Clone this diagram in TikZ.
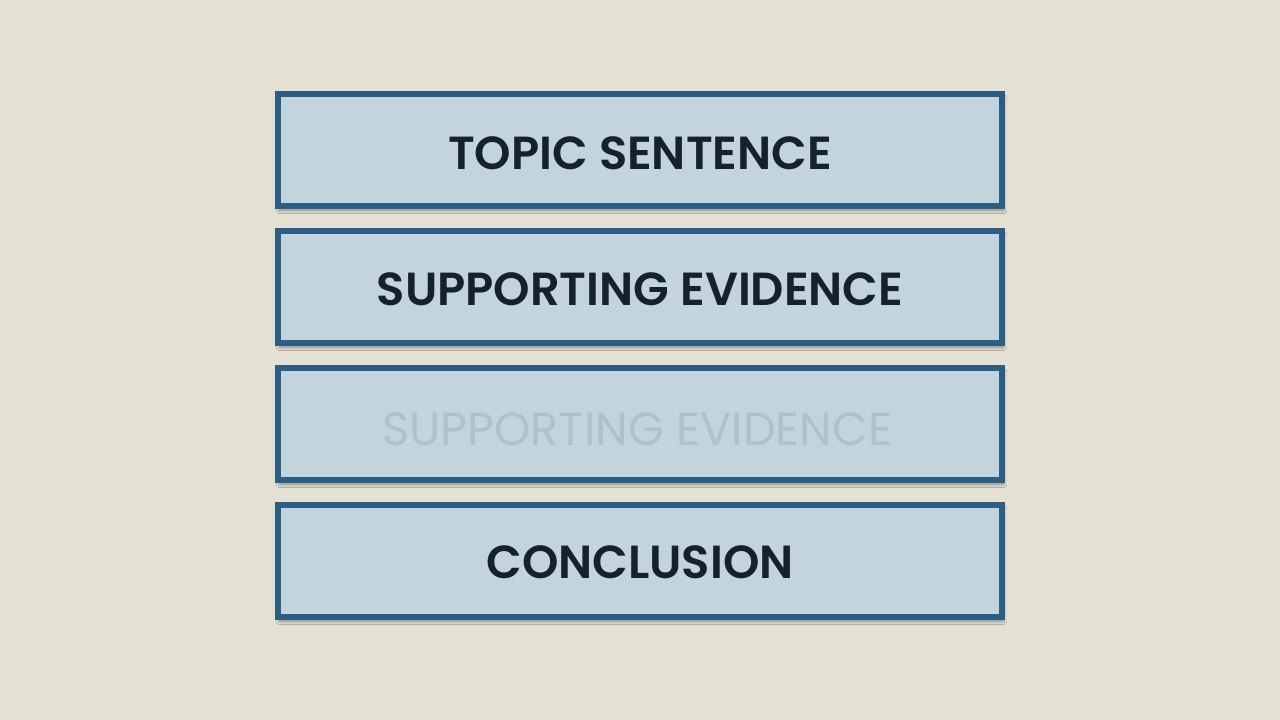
\documentclass[tikz,border=0pt]{standalone}
\usepackage{xcolor}
\usepackage{fontspec}
\setmainfont{Poppins}
\newfontfamily\semibold{Poppins SemiBold}
\usepackage{tikz}
\usetikzlibrary{shadows.blur}
\usetikzlibrary{positioning}
\definecolor{paper}{HTML}{E4E0D4}
\definecolor{boxfill}{HTML}{C3D4DD}
\definecolor{boxline}{HTML}{2B5E84}
\definecolor{ink}{HTML}{14222E}
\definecolor{faded}{HTML}{AFC1CB}
\tikzstyle{part}=[draw=boxline,fill=boxfill,line width=1.7pt,rectangle,
minimum width=7.24cm,minimum height=1.12cm,align=center,
blur shadow={shadow xshift=0.4pt,shadow yshift=-1.2pt,shadow blur radius=1pt,shadow blur steps=3,shadow opacity=45}]
\tikzstyle{label}=[font=\fontsize{13.2}{15}\semibold,text=ink]
\tikzstyle{ghost}=[font=\fontsize{13.2}{15}\selectfont,text=faded]

\begin{document}
\begin{tikzpicture}[node distance=0.19cm]

	\fill[paper] (0,0) rectangle (12.8,7.2);
	\useasboundingbox (0,0) rectangle (12.8,7.2);

	\node[part] (topic) at (6.4,5.70) {};
	\node[part,below=of topic] (supp1) {};
	\node[part,below=of supp1] (supp2) {};
	\node[part,below=of supp2] (concl) {};

	\node[label] (tt) at ([yshift=-0.03cm]topic.center) {TOPIC SENTENCE};
	\node[label] (st1) at ([yshift=-0.02cm]supp1.center) {SUPPORTING EVIDENCE};
	\node[ghost] (st2) at ([xshift=-0.03cm,yshift=-0.05cm]supp2.center) {SUPPORTING EVIDENCE};
	\node[label] (ct) at ([yshift=-0.01cm]concl.center) {CONCLUSION};

\end{tikzpicture}
\end{document}
